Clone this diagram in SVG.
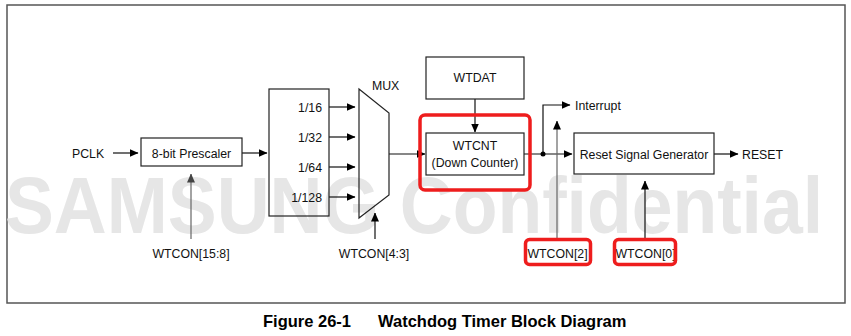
<svg xmlns="http://www.w3.org/2000/svg" width="851" height="336" viewBox="0 0 851 336">
<style>
text{font-family:"Liberation Sans",Arial,sans-serif;font-size:12.3px;fill:#111}
.box{fill:none;stroke:#222;stroke-width:1.2}
.ln{fill:none;stroke:#111;stroke-width:1.2}
.gl{fill:none;stroke:#666;stroke-width:1.2}
.red{fill:none;stroke:#ee1d1d;stroke-width:3.5}
.mid{text-anchor:middle}
.end{text-anchor:end}
.cap{font-size:16.5px;font-weight:bold;fill:#000}
</style>
<defs>
<marker id="ah" markerWidth="9" markerHeight="8" refX="8.5" refY="4" orient="auto" markerUnits="userSpaceOnUse"><path d="M0,0 L9,4 L0,8 z" fill="#000"/></marker>
<marker id="ahg" markerWidth="9" markerHeight="8" refX="8.5" refY="4" orient="auto" markerUnits="userSpaceOnUse"><path d="M0,0 L9,4 L0,8 z" fill="#444"/></marker>
</defs>
<rect x="0" y="0" width="851" height="336" fill="#fff"/>
<rect x="7" y="5" width="838" height="298" fill="none" stroke="#555" stroke-width="1.5"/>
<text x="5" y="233" textLength="818" lengthAdjust="spacingAndGlyphs" style="font-size:80px;font-weight:bold;fill:#e6e6e6">SAMSUNG Confidential</text>

<g id="connectors">
<line class="ln" x1="113" y1="153" x2="138" y2="153" marker-end="url(#ah)"/>
<line class="ln" x1="242" y1="153" x2="267" y2="153" marker-end="url(#ah)"/>
<line class="ln" x1="329" y1="107" x2="355" y2="107" marker-end="url(#ah)"/>
<line class="ln" x1="329" y1="137" x2="355" y2="137" marker-end="url(#ah)"/>
<line class="ln" x1="329" y1="167" x2="355" y2="167" marker-end="url(#ah)"/>
<line class="ln" x1="329" y1="197" x2="355" y2="197" marker-end="url(#ah)"/>
<line class="ln" x1="389" y1="154" x2="425" y2="154" marker-end="url(#ah)"/>
<line class="ln" x1="475" y1="99" x2="475" y2="132" marker-end="url(#ah)"/>
<line class="ln" x1="524" y1="154" x2="572" y2="154" marker-end="url(#ah)"/>
<polyline class="ln" points="543,154 543,105 570,105" marker-end="url(#ah)"/>
<circle cx="543" cy="154" r="2.5" fill="#000"/>
<line class="ln" x1="714" y1="154" x2="738" y2="154" marker-end="url(#ah)"/>
<line class="gl" x1="191" y1="239" x2="191" y2="174" marker-end="url(#ahg)"/>
<line class="ln" x1="375" y1="239" x2="375" y2="213" marker-end="url(#ah)"/>
<line class="gl" x1="557" y1="239" x2="557" y2="121" marker-end="url(#ah)"/>
<line class="ln" x1="645" y1="239" x2="645" y2="181" marker-end="url(#ah)"/>
</g>

<g id="pclk"><text x="72" y="157.5">PCLK</text></g>
<g id="prescaler"><rect class="box" x="141" y="138" width="101" height="28"/><text class="mid" x="191.5" y="157.5">8-bit Prescaler</text></g>
<g id="divider"><rect class="box" x="269" y="89" width="60" height="127"/>
<text class="end" x="322" y="111.5">1/16</text>
<text class="end" x="322" y="141.5">1/32</text>
<text class="end" x="322" y="171.5">1/64</text>
<text class="end" x="322" y="201.5">1/128</text></g>
<g id="mux"><polygon class="box" points="359,89 389,113 389,195 359,218"/><text x="372" y="90">MUX</text></g>
<g id="wtdat"><rect class="box" x="426" y="57" width="98" height="42"/><text class="mid" x="475" y="82">WTDAT</text></g>
<g id="wtcnt"><rect class="box" x="426" y="133" width="98" height="42"/><text class="mid" x="475" y="150">WTCNT</text><text class="mid" x="475" y="167">(Down Counter)</text>
<rect class="red" x="420" y="115" width="110" height="75" rx="5"/></g>
<g id="interrupt"><text x="575" y="109.5">Interrupt</text></g>
<g id="reset-gen"><rect class="box" x="574" y="133" width="140" height="41"/><text class="mid" x="644" y="158.5">Reset Signal Generator</text></g>
<g id="reset"><text x="742" y="158.5">RESET</text></g>
<g id="wtcon158"><text class="mid" x="191" y="258">WTCON[15:8]</text></g>
<g id="wtcon43"><text class="mid" x="374" y="258">WTCON[4:3]</text></g>
<g id="wtcon2"><text class="mid" x="557.5" y="258">WTCON[2]</text><rect class="red" x="525.5" y="239.5" width="65" height="25" rx="4"/></g>
<g id="wtcon0"><text class="mid" x="645.5" y="258">WTCON[0]</text><rect class="red" x="614.5" y="239.5" width="61" height="25" rx="4"/></g>
<text class="cap" x="263" y="327">Figure 26-1</text>
<text class="cap" x="378" y="327">Watchdog Timer Block Diagram</text>
</svg>
